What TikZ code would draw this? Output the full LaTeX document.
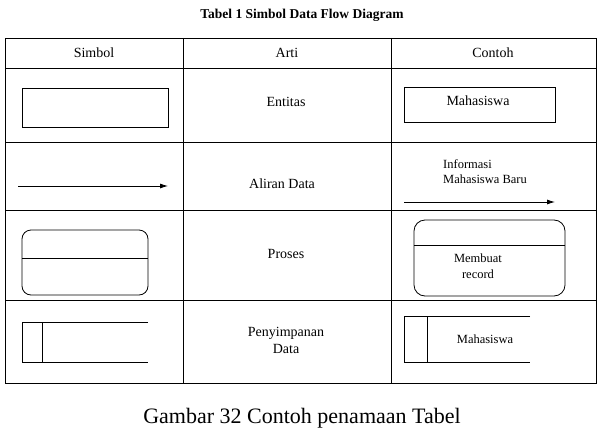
\documentclass[tikz,border=0pt]{standalone}
\usepackage{fontspec}
\setmainfont{Liberation Serif}
\usetikzlibrary{positioning,arrows.meta}

\begin{document}
\begin{tikzpicture}[x=1pt,y=-1pt,
    cell/.style={font=\fontsize{14}{17}\selectfont, align=center},
    line/.style={line width=0.8pt},
    flow/.style={line width=0.8pt, -{Latex[length=8pt,width=5pt]}}]
    \useasboundingbox (0,0) rectangle (604,444);

    % Title and caption
    \node[font=\fontsize{13.5}{16}\selectfont\bfseries] (title) at (302,15) {Tabel 1 Simbol Data Flow Diagram};
    \node[font=\fontsize{22}{26}\selectfont] (caption) at (302,418) {Gambar 32 Contoh penamaan Tabel};

    % Table grid
    \draw[line] (5,38) rectangle (596,383);
    \foreach \x in {183,391} {
        \draw[line] (\x,38) -- (\x,383);
    }
    \foreach \y in {68,142,210,300} {
        \draw[line] (5,\y) -- (596,\y);
    }

    % Header
    \node[cell] (hsimbol) at (94,53) {Simbol};
    \node[cell] (harti) at (287,53) {Arti};
    \node[cell] (hcontoh) at (493,53) {Contoh};

    % Entitas
    \draw[line] (22,88) rectangle (168,127);
    \node[cell] (entitas) at (286,102) {Entitas};
    \node[draw, line width=0.8pt, minimum width=151pt, minimum height=35pt] (mhs) at (479.5,104.5) {};
    \node[cell] (mhstext) at (478,101) {Mahasiswa};

    % Aliran data
    \coordinate (a1) at (18,186);
    \coordinate (a2) at (168,186);
    \draw[flow] (a1) -- (a2);
    \node[cell] (aliran) at (282,184) {Aliran Data};
    \node[align=left, font=\fontsize{12.5}{15}\selectfont] (info) at (485,172) {Informasi\\Mahasiswa Baru};
    \coordinate (b1) at (404,202);
    \coordinate (b2) at (555,202);
    \draw[flow] (b1) -- (b2);

    % Proses
    \draw[line, rounded corners=9pt] (22,230) rectangle (148,295);
    \draw[line] (22,258) -- (148,258);
    \node[cell] (proses) at (286,254) {Proses};
    \draw[line, rounded corners=11pt] (414,220) rectangle (565,296);
    \draw[line] (414,245) -- (565,245);
    \node[cell, font=\fontsize{12.5}{16}\selectfont] (membuat) at (478,266) {Membuat\\record};

    % Penyimpanan data
    \draw[line] (148,322) -- (22,322) -- (22,362) -- (148,362);
    \draw[line] (42,322) -- (42,362);
    \node[cell] (simpan) at (286,340) {Penyimpanan\\Data};
    \draw[line] (530,316) -- (404,316) -- (404,362) -- (530,362);
    \draw[line] (427,316) -- (427,362);
    \node[cell, font=\fontsize{12.5}{15}\selectfont] (store) at (485,339) {Mahasiswa};
\end{tikzpicture}
\end{document}
